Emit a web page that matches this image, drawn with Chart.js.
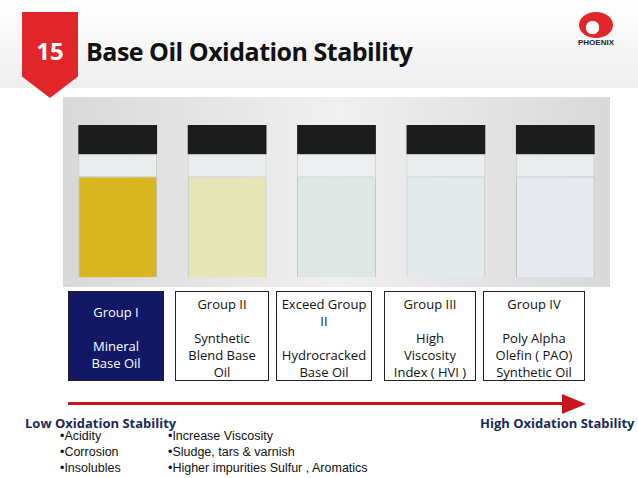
<!DOCTYPE html>
<html><head><meta charset="utf-8">
<script src="https://cdn.jsdelivr.net/npm/chart.js@4"></script>
<style>
body{margin:0;width:638px;height:478px;position:relative;background:#fff;font-family:"Open Sans",Arial,sans-serif;overflow:hidden}
#top{position:absolute;left:0;top:0;width:638px;height:88px;background:linear-gradient(#fff,#eee)}
#badge{position:absolute;left:22px;top:12px;width:56px;height:86px;background:#e0262b;clip-path:polygon(0 0,100% 0,100% 75%,50% 100%,0 75%);color:#fff;font:bold 24px "Open Sans";text-align:center;line-height:78px}
#title{position:absolute;left:86px;top:34px;font:bold 25px "Open Sans";color:#111;letter-spacing:-0.5px}
#logo{position:absolute;left:568px;top:12px;width:56px;height:40px;text-align:center}
#photo{position:absolute;left:63px;top:97px;width:547px;height:190px;background:linear-gradient(90deg,#d8d8d8,#f0f0f0 50%,#d8d8d8)}
.box{position:absolute;top:291px;height:90px;border:1px solid #222;background:#fff;font-size:13px;text-align:center;line-height:17px;color:#111;box-sizing:border-box;padding-top:4px}
.t{position:absolute;font-size:13px;color:#111}
.b{position:absolute;font:12.5px "Liberation Sans",Arial,sans-serif;color:#111;line-height:16px}
</style></head><body>
<div id="top"></div>
<div id="badge">15</div>
<div id="title">Base Oil Oxidation Stability</div>
<div id="logo"><div style="width:34px;height:26px;margin:0 auto;border-radius:50%;background:radial-gradient(circle at 40% 60%,#fff 25%,#e0262b 27%)"></div><div style="font:bold 8px Arial;color:#222">PHOENIX</div></div>
<div id="photo"><canvas id="c" width="547" height="190"></canvas></div>
<div class="box" style="left:68px;width:96px;background:#121866;color:#fff;padding-top:12px">Group I<br><br>Mineral<br>Base Oil</div>
<div class="box" style="left:175px;width:94px">Group II<br><br>Synthetic<br>Blend Base<br>Oil</div>
<div class="box" style="left:276px;width:96px">Exceed Group<br>II<br><br>Hydrocracked<br>Base Oil</div>
<div class="box" style="left:384px;width:92px">Group III<br><br>High<br>Viscosity<br>Index ( HVI )</div>
<div class="box" style="left:483px;width:102px">Group IV<br><br>Poly Alpha<br>Olefin ( PAO)<br>Synthetic Oil</div>
<div style="position:absolute;left:68px;top:402px;width:500px;height:3px;background:#c8141c"></div>
<div style="position:absolute;left:562px;top:394px;width:0;height:0;border-top:10px solid transparent;border-bottom:10px solid transparent;border-left:24px solid #c8141c"></div>
<div class="t" style="left:25px;top:414px;font-weight:bold;color:#1a2a55">Low Oxidation Stability</div>
<div class="t" style="left:480px;top:414px;font-weight:bold;color:#1a2a55">High Oxidation Stability</div>
<div class="b" style="left:60px;top:428px">•Acidity<br>•Corrosion<br>•Insolubles</div>
<div class="b" style="left:168px;top:428px">•Increase Viscosity<br>•Sludge, tars &amp; varnish<br>•Higher impurities Sulfur , Aromatics</div>
<script>
const categories=["Group I","Group II","Exceed Group II","Group III","Group IV"];
const liquidLevel=[55,55,55,55,55];
const headSpace=[12,12,12,12,12];
const capHeight=[16,16,16,16,16];
const oilColors=["#d9b520","#e4e6b8","#dfe7e4","#e4eaec","#e6eaee"];
new Chart(document.getElementById('c'),{type:'bar',
data:{labels:categories,datasets:[
{data:liquidLevel,backgroundColor:oilColors,borderColor:"#bbb",borderWidth:1,barPercentage:0.8,categoryPercentage:0.9,stack:'s'},
{data:headSpace,backgroundColor:"rgba(235,238,240,0.9)",borderColor:"#ccc",borderWidth:1,barPercentage:0.8,categoryPercentage:0.9,stack:'s'},
{data:capHeight,backgroundColor:"#1c1c1c",barPercentage:0.8,categoryPercentage:0.9,stack:'s'}]},
options:{responsive:false,animation:false,layout:{padding:{top:28,bottom:6,left:0,right:0}},
plugins:{legend:{display:false},tooltip:{enabled:false}},
scales:{x:{display:false,stacked:true},y:{display:false,stacked:true,min:-2,max:83}}}});
</script>
</body></html>
